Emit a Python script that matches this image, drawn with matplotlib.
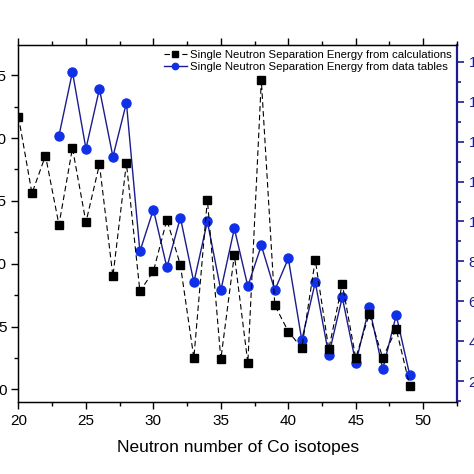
import matplotlib
matplotlib.use("Agg")
import matplotlib.pyplot as plt
from matplotlib.ticker import MultipleLocator

plt.rcParams['font.family'] = ['Liberation Sans', 'DejaVu Sans']

n_calc = list(range(20, 50))
s_calc = [21.7, 15.6, 18.6, 13.1, 19.2, 13.3, 17.9, 9.0, 18.0, 7.8,
          9.4, 13.5, 9.9, 2.5, 15.1, 2.4, 10.7, 2.1, 24.6, 6.7,
          4.6, 3.3, 10.3, 3.2, 8.4, 2.5, 6.0, 2.5, 4.8, 0.3]

n_tab = list(range(23, 50))
s_tab = [14.3, 17.5, 13.65, 16.65, 13.25, 15.95, 8.5, 10.6, 7.7, 10.2,
         6.95, 10.0, 6.55, 9.65, 6.75, 8.8, 6.55, 8.15, 4.05, 6.95,
         3.3, 6.2, 2.9, 5.7, 2.6, 5.3, 2.3]

lbl_calc = "Single Neutron Separation Energy from calculations"
lbl_tab = "Single Neutron Separation Energy from data tables"
xlabel = "Neutron number of Co isotopes"

navy = '#1c1c8c'
fig = plt.figure(figsize=(4.74, 4.74), dpi=100)
ax = fig.add_axes([0.039, 0.152, 0.925, 0.753])
ax2 = ax.twinx()

l1, = ax.plot(n_calc, s_calc, color='black', linestyle=(0, (5, 3)), linewidth=0.8,
              marker='s', markersize=5.5, markerfacecolor='black', markeredgecolor='black',
              label=lbl_calc)
l2, = ax2.plot(n_tab, s_tab, color=navy, linestyle='-', linewidth=1.0,
               marker='o', markersize=6.5, markerfacecolor='#1030e8', markeredgecolor='#1030e8',
               label=lbl_tab)

ax.set_xlim(20, 52.5)
ax.set_ylim(-1.0, 27.4)
ax2.set_ylim(0.95, 18.85)

ax.xaxis.set_major_locator(MultipleLocator(5))
ax.xaxis.set_minor_locator(MultipleLocator(2.5))
ax.yaxis.set_major_locator(MultipleLocator(5))
ax.yaxis.set_minor_locator(MultipleLocator(2.5))
ax2.yaxis.set_major_locator(MultipleLocator(2))
ax2.yaxis.set_minor_locator(MultipleLocator(1))

ax.tick_params(axis='both', which='both', direction='out', labelsize=11)
ax.tick_params(axis='x', which='both', top=True, labeltop=False)
ax.tick_params(which='major', length=5, width=1)
ax.tick_params(which='minor', length=3, width=1)
ax2.tick_params(axis='y', which='both', direction='out', colors=navy, labelsize=11)
ax2.tick_params(which='major', length=5, width=1.2)
ax2.tick_params(which='minor', length=3, width=1.2)

for s in ['left', 'bottom', 'top']:
    ax.spines[s].set_linewidth(1.0)
ax2.spines['right'].set_color(navy)
ax2.spines['right'].set_linewidth(1.6)
ax.spines['right'].set_visible(False)

ax.set_xlabel(xlabel, fontsize=12.5, labelpad=9)

leg = ax.legend(handles=[l1, l2], loc='upper right', fontsize=8.2, frameon=True,
                edgecolor='none', facecolor='white', framealpha=1.0,
                handlelength=2.0, handletextpad=0.3, borderaxespad=0.15,
                labelspacing=0.15, markerscale=0.7, borderpad=0.3)
leg.set_zorder(5)
ax.set_zorder(ax2.get_zorder() + 1)
ax.patch.set_visible(False)

fig.savefig('out.png', dpi=100)
